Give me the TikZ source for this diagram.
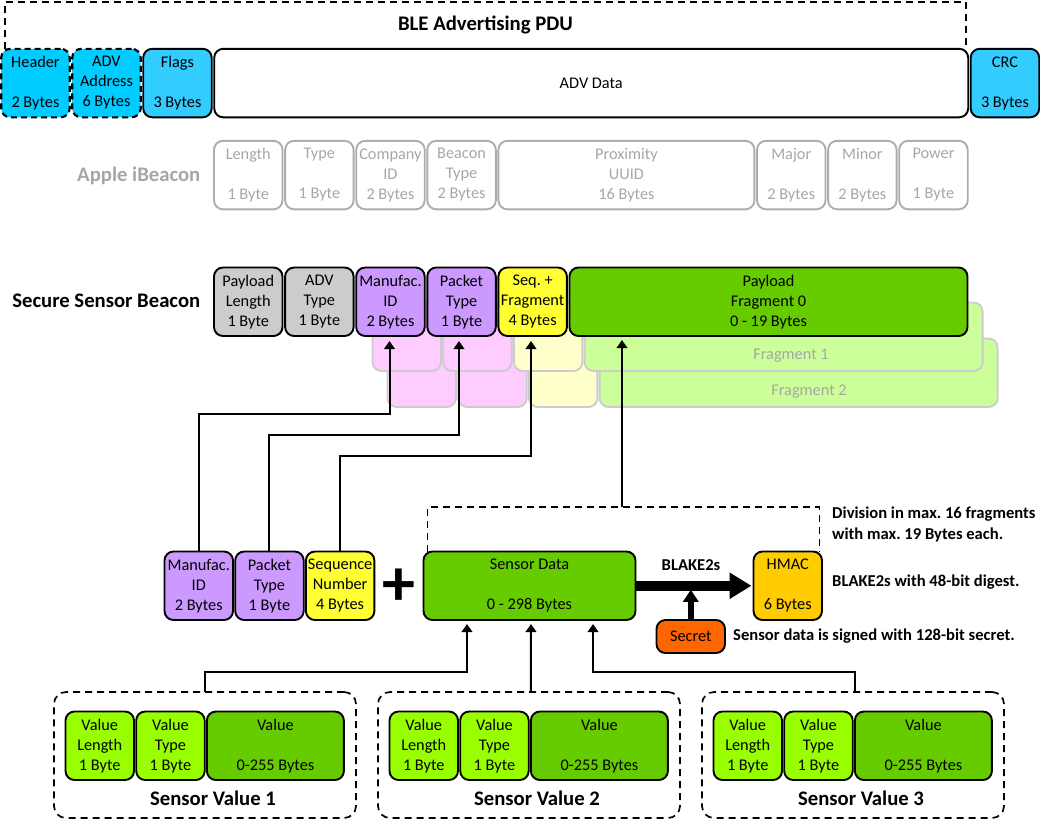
\documentclass[tikz,border=0pt]{standalone}
\usepackage{fontspec}
\setmainfont{Carlito}
\usepackage{tikz}
\usetikzlibrary{positioning}
\usetikzlibrary{arrows.meta}
\definecolor{cyand}{HTML}{00CCFF}
\definecolor{cyans}{HTML}{33CCFF}
\definecolor{ghost}{HTML}{A6A6A6}
\definecolor{ghostl}{HTML}{ADADAD}
\definecolor{fragl}{HTML}{CCCCCC}
\definecolor{purp}{HTML}{CC99FF}
\definecolor{yell}{HTML}{FFFF33}
\definecolor{grn}{HTML}{66CC00}
\definecolor{lime}{HTML}{99FF00}
\definecolor{pinkf}{HTML}{FFCCFF}
\definecolor{yellf}{HTML}{FFFFCC}
\definecolor{grnf}{HTML}{CCFF99}
\definecolor{amber}{HTML}{FFCC00}
\definecolor{tang}{HTML}{FF6600}
\tikzset{onefield/.style={
        draw, 
        rounded corners=9pt, 
        line width=1.9pt, 
        inner sep=0pt, 
        outer sep=0pt, 
        align=center, 
        minimum height=68.5pt, 
        minimum width=68.5pt, 
        font=\fontsize{16.3}{20}\selectfont } }
\tikzset{field/.style={
    onefield, 
    execute at begin node={\rule{0pt}{14.5pt}} } }
\tikzset{ghostfield/.style={
    field, 
    draw=ghostl, 
    text=ghost } }
\tikzset{fragfield/.style={
    onefield, 
    draw=fragl } }
\tikzset{headfield/.style={
    field, 
    fill=cyand, 
    line width=2.1pt, 
    dash pattern=on 6pt off 4pt } }
\tikzset{dashbox/.style={
    draw, 
    rounded corners=12pt, 
    line width=1.7pt, 
    dash pattern=on 7pt off 5pt, 
    inner sep=0pt, 
    outer sep=0pt } }
\tikzset{dashline/.style={
    line width=1.7pt, 
    dash pattern=on 7pt off 5pt } }
\tikzset{conn/.style={
    line width=2pt, 
    -{Triangle[length=8pt,width=10.5pt]}, 
    shorten >=4pt } }
\tikzset{title/.style={
    font=\fontsize{20.7}{22}\selectfont\bfseries, 
    inner sep=0pt } }
\tikzset{remark/.style={
    font=\fontsize{16.6}{20}\selectfont\bfseries, 
    inner sep=0pt, 
    anchor=west } }
\tikzset{fragtext/.style={
    font=\fontsize{16.3}{20}\selectfont, 
    text=ghost, 
    inner sep=0pt } }

\begin{document}
\frenchspacing
\begin{tikzpicture}[x=1pt,y=-1pt]
\useasboundingbox (0,0) rectangle (1040,820);

% shadow fragments
\node[fragfield, fill=pinkf, anchor=north west] (f2man) at (387.5,338.5) {};
\node[fragfield, fill=pinkf] (f2pkt) [right = 2.2pt of f2man] {};
\node[fragfield, fill=yellf] (f2seq) [right = 2.2pt of f2pkt] {};
\node[fragfield, fill=grnf, minimum width=398pt] (f2pay) [right = 2.2pt of f2seq] {};
\node[fragfield, fill=pinkf, anchor=north west] (f1man) at (372.5,302.5) {};
\node[fragfield, fill=pinkf] (f1pkt) [right = 2.2pt of f1man] {};
\node[fragfield, fill=yellf] (f1seq) [right = 2.2pt of f1pkt] {};
\node[fragfield, fill=grnf, minimum width=398pt] (f1pay) [right = 2.2pt of f1seq] {};
\node[fragtext] (f1txt) at (791,356) {Fragment 1};
\node[fragtext] (f2txt) at (809,392) {Fragment 2};

% advertising PDU
\node[title] (pdu) at (485.5,25) {BLE Advertising PDU};
\node[headfield, anchor=north west] (hdr) at (1.2,48.8) {Header\\~\\2 Bytes};
\node[headfield] (adv) [right = 2.5pt of hdr] {ADV\\Address\\6 Bytes};
\node[field, fill=cyans] (flg) [right = 2.5pt of adv] {Flags\\~\\3 Bytes};
\node[onefield, minimum width=754pt] (dat) [right = 2.5pt of flg] {ADV Data};
\node[field, fill=cyans] (crc) [right = 2.5pt of dat] {CRC\\~\\3 Bytes};
\draw[dashline] ([xshift=4pt]hdr.north west) -- ++(0,-47) -| ([xshift=-2.5pt]dat.north east);

% ibeacon
\node[title, text=ghost, anchor=east] (ibc) at (200.5,175.5) {Apple iBeacon};
\node[ghostfield, anchor=north west] (ilen) at (214,140.8) {Length\\~\\1 Byte};
\node[ghostfield] (ityp) [right = 2.6pt of ilen] {Type\\~\\1 Byte};
\node[ghostfield] (icom) [right = 2.6pt of ityp] {Company\\ID\\2 Bytes};
\node[ghostfield] (ibty) [right = 2.6pt of icom] {Beacon\\Type\\2 Bytes};
\node[ghostfield, minimum width=256pt] (iuid) [right = 2.6pt of ibty] {Proximity\\UUID\\16 Bytes};
\node[ghostfield] (imaj) [right = 2.6pt of iuid] {Major\\~\\2 Bytes};
\node[ghostfield] (imin) [right = 2.6pt of imaj] {Minor\\~\\2 Bytes};
\node[ghostfield] (ipow) [right = 2.6pt of imin] {Power\\~\\1 Byte};

% secure sensor beacon
\node[title, anchor=east] (ssb) at (200.5,300.5) {Secure Sensor Beacon};
\node[field, fill=fragl, anchor=north west] (plen) at (214,267.5) {Payload\\Length\\1 Byte};
\node[field, fill=fragl] (atyp) [right = 2.6pt of plen] {ADV\\Type\\1 Byte};
\node[field, fill=purp] (manu) [right = 2.6pt of atyp] {Manufac.\\ID\\2 Bytes};
\node[field, fill=purp] (pktu) [right = 2.6pt of manu] {Packet\\Type\\1 Byte};
\node[field, fill=yell] (sequ) [right = 2.6pt of pktu] {Seq. +\\Fragment\\4 Bytes};
\node[field, fill=grn, minimum width=398pt] (pay) [right = 2.6pt of sequ] {Payload\\Fragment 0\\0 - 19 Bytes};

% sensor data row
\node[field, fill=purp, anchor=north west] (manl) at (164.5,551.5) {Manufac.\\ID\\2 Bytes};
\node[field, fill=purp] (pktl) [right = 2.2pt of manl] {Packet\\Type\\1 Byte};
\node[field, fill=yell] (seql) [right = 2.2pt of pktl] {Sequence\\Number\\4 Bytes};
\node[font=\fontsize{66}{66}\selectfont\bfseries, inner sep=0pt] (plus) at (398.5,587) {+};
\node[field, fill=grn, minimum width=212pt, anchor=north west] (sd) at (423.5,551.5) {Sensor Data\\~\\0 - 298 Bytes};
\node[field, fill=amber, anchor=north west] (hmac) at (753.5,551.5) {HMAC\\~\\6 Bytes};
\node[onefield, fill=tang, minimum height=33pt, anchor=north west] (sec) at (656.5,620) {Secret};
\node[remark] (r1) at (832,514.5) {Division in max. 16 fragments};
\node[remark] (r2) at (832,534.5) {with max. 19 Bytes each.};
\node[remark] (r3) at (832,582.5) {BLAKE2s with 48-bit digest.};
\node[remark] (r4) at (733,636.5) {Sensor data is signed with 128-bit secret.};
\node[remark, anchor=center] (r5) at (691,565) {BLAKE2s};

% sensor values
\node[dashbox, minimum width=302pt, minimum height=126pt, anchor=north west] (sv1) at (54,692) {};
\node[field, fill=lime, anchor=north west] (sv1l) at (65.5,711.5) {Value\\Length\\1 Byte};
\node[field, fill=lime] (sv1t) [right = 2.2pt of sv1l] {Value\\Type\\1 Byte};
\node[field, fill=grn, minimum width=137pt] (sv1v) [right = 2.2pt of sv1t] {Value\\~\\0-255 Bytes};
\node[title] (sv1n) at (213,798.5) {Sensor Value 1};

\node[dashbox, minimum width=302pt, minimum height=126pt, anchor=north west] (sv2) at (378,692) {};
\node[field, fill=lime, anchor=north west] (sv2l) at (389.5,711.5) {Value\\Length\\1 Byte};
\node[field, fill=lime] (sv2t) [right = 2.2pt of sv2l] {Value\\Type\\1 Byte};
\node[field, fill=grn, minimum width=137pt] (sv2v) [right = 2.2pt of sv2t] {Value\\~\\0-255 Bytes};
\node[title] (sv2n) at (537,798.5) {Sensor Value 2};

\node[dashbox, minimum width=302pt, minimum height=126pt, anchor=north west] (sv3) at (702,692) {};
\node[field, fill=lime, anchor=north west] (sv3l) at (713.5,711.5) {Value\\Length\\1 Byte};
\node[field, fill=lime] (sv3t) [right = 2.2pt of sv3l] {Value\\Type\\1 Byte};
\node[field, fill=grn, minimum width=137pt] (sv3v) [right = 2.2pt of sv3t] {Value\\~\\0-255 Bytes};
\node[title] (sv3n) at (861,798.5) {Sensor Value 3};

% arrow ends
\coordinate (mantip) at (389.5,337);
\coordinate (pkttip) at (459,337);
\coordinate (seqtip) at (531,337);
\coordinate (divtop) at (622,507);
\coordinate (sdin1) at (467,620);
\coordinate (sdin2) at (531,620);
\coordinate (sdin3) at (593,620);

\path[conn]
(manl.north) edge [to path={-- ++(0,-137.5) -| (\tikztotarget)}] (mantip)
(pktl.north) edge [to path={-- ++(0,-116.5) -| (\tikztotarget)}] (pkttip)
(seql.north) edge [to path={-- ++(0,-95.5) -| (\tikztotarget)}] (seqtip)
(divtop) edge (divtop |- pay.south)
(sv1t.east |- sv1.north) edge [to path={-- ++(0,-20) -| (\tikztotarget)}] (sdin1)
(sv2v.west |- sv2.north) edge (sdin2)
(sv3v.west |- sv3.north) edge [to path={-- ++(0,-20) -| (\tikztotarget)}] (sdin3)
;

\draw[dashline] ([xshift=4pt]sd.north west) -- ++(0,-44.5) -| ([xshift=-2.5pt]hmac.north east);

\draw[line width=10pt, -{Triangle[length=22pt,width=25pt]}, shorten >=2pt] (sd.east) -- (hmac.west);
\draw[line width=6.5pt, -{Triangle[length=12pt,width=15pt]}, shorten >=4pt] (sec.north) -- (sec.north |- sd.east);

\end{tikzpicture}
\end{document}
